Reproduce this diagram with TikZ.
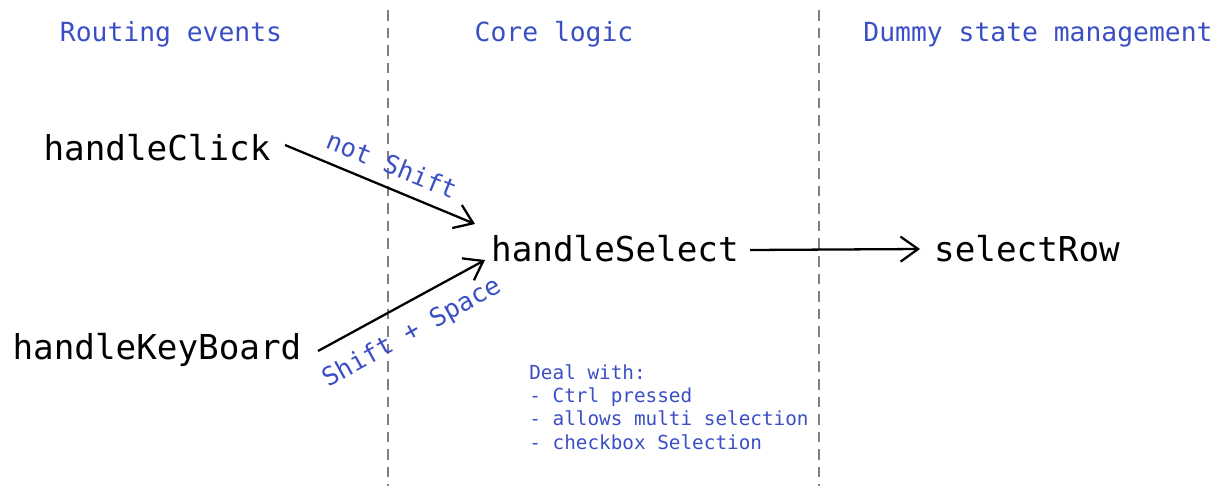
\documentclass[tikz,border=0pt]{standalone}
\usepackage{fontspec}
\setmonofont{DejaVu Sans Mono}
\usetikzlibrary{arrows.meta}
\definecolor{hblue}{HTML}{3B4FC4}
\begin{document}
\begin{tikzpicture}[x=0.02cm,y=-0.02cm,
  big/.style={font=\ttfamily\fontsize{19.5}{22}\selectfont,inner sep=0pt},
  head/.style={font=\ttfamily\fontsize{15}{18}\selectfont,text=hblue,inner sep=0pt},
  lab/.style={font=\ttfamily\fontsize{14.5}{17}\selectfont,text=hblue,inner sep=0pt},
  note/.style={font=\ttfamily\fontsize{11}{13.3}\selectfont,text=hblue,inner sep=0pt,align=left},
  arr/.style={line width=1.3pt,-{Straight Barb[length=3.5mm,width=5mm]}},
  divider/.style={gray,line width=1pt,dash pattern=on 6pt off 4pt}]
\useasboundingbox (0,0) rectangle (1229,494);
\draw[divider] (388,10) -- (388,486);
\draw[divider] (819,10) -- (819,486);
\node[head] (h1) at (171,34) {Routing events};
\node[head] (h2) at (554,34) {Core logic};
\node[head] (h3) at (1038,35) {Dummy state management};
\node[big] (click) at (157,148) {handleClick};
\node[big] (key) at (157,350) {handleKeyBoard};
\node[big] (sel) at (615,249) {handleSelect};
\node[big] (row) at (1027,249) {selectRow};
\coordinate (c1) at (285,145); \coordinate (c2) at (475,224);
\coordinate (k1) at (318,351); \coordinate (k2) at (485,260);
\coordinate (s1) at (750,250); \coordinate (s2) at (920,249);
\draw[arr] (c1) -- (c2);
\draw[arr] (k1) -- (k2);
\draw[arr] (s1) -- (s2);
\node[lab,rotate=-22] (l1) at (392,165) {not Shift};
\node[lab,rotate=29] (l2) at (412,333) {Shift + Space};
\node[note,anchor=north west] (n) at (529,364) {Deal with:\\- Ctrl pressed\\- allows multi selection\\- checkbox Selection};
\end{tikzpicture}
\end{document}
